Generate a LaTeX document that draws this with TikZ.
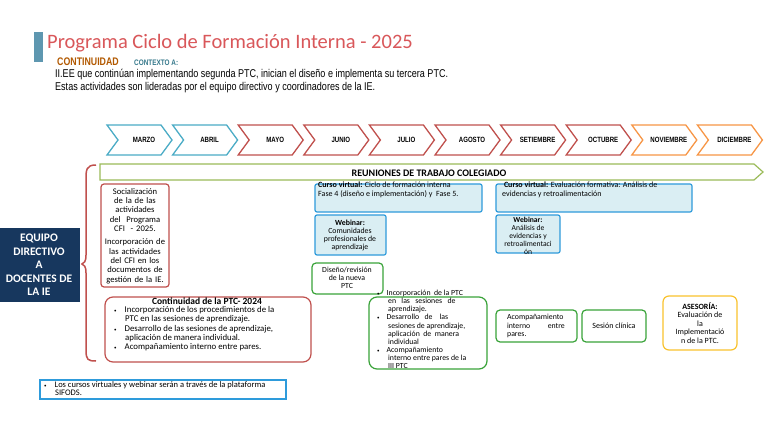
\documentclass[tikz,border=0pt]{standalone}
\usepackage{fontspec}
\setmainfont{Carlito}
\newfontfamily\narrowfont{Liberation Sans}[FakeStretch=0.8]
\usetikzlibrary{shapes.misc}
\definecolor{cblue}{HTML}{4BACC6}
\definecolor{cred}{HTML}{C0504D}
\definecolor{corange}{HTML}{F79646}
\definecolor{cgreen}{HTML}{9BBB59}
\definecolor{bgreen}{HTML}{3AA33A}
\definecolor{navy}{HTML}{17375E}
\definecolor{lblue}{HTML}{DAEEF3}
\definecolor{sblue}{HTML}{2E9BDB}
\definecolor{ttl}{HTML}{D9575A}
\definecolor{yel}{HTML}{F9C22E}
\newcommand{\bul}{{\tiny\textbullet}}
\tikzset{
 mon/.style={line width=1.3pt,fill=white,line join=miter},
 mlab/.style={font=\narrowfont\fontsize{7.6}{9}\selectfont\bfseries},
}
\begin{document}
\begin{tikzpicture}[x=1pt,y=-1pt]
\useasboundingbox (0,0) rectangle (768,433);
\fill[white] (0,0) rectangle (768,433);
% title
\fill[cblue!60!navy!80] (34,32) rectangle (43,62);
\node[anchor=west,text=ttl,font=\fontsize{20.5}{22}\selectfont,inner sep=0] (title) at (47,43) {Programa Ciclo de Formación Interna - 2025};
\node[anchor=west,text=orange!70!black,font=\narrowfont\fontsize{11}{12}\selectfont\bfseries,inner sep=0] (cont) at (57,62) {CONTINUIDAD};
\node[anchor=west,text=cblue!70!black,font=\narrowfont\fontsize{8}{9}\selectfont\bfseries,inner sep=0] (ctx) at (134,63) {CONTEXTO A:};
\node[anchor=west,font=\narrowfont\fontsize{11.3}{12}\selectfont,inner sep=0] (l1) at (55,75) {II.EE que continúan implementando segunda PTC, inician el diseño e implementa su tercera PTC.};
\node[anchor=west,font=\narrowfont\fontsize{11.3}{12}\selectfont,inner sep=0] (l2) at (55,88) {Estas actividades son lideradas por el equipo directivo y coordinadores de la IE.};
% months
\foreach \i/\m/\c in {0/MARZO/cblue,1/ABRIL/cblue,2/MAYO/cred,3/JUNIO/cred,4/JULIO/cred,5/AGOSTO/cred,6/SETIEMBRE/cred,7/OCTUBRE/cred,8/NOVIEMBRE/corange,9/DICIEMBRE/corange}{
 \pgfmathsetmacro\xa{107+65.6*\i}
 \draw[mon,draw=\c] (\xa,125) -- ++(54,0) -- ++(11,15) -- ++(-11,15) -- ++(-54,0) -- ++(11,-15) -- cycle;
 \node[mlab] (m\i) at (\xa+37,140) {\m};
}
% green arrow
\draw[cgreen,line width=1.2pt] (100,164) -- (754,164) -- (763,172) -- (754,180) -- (100,180) -- cycle;
\node[font=\fontsize{10}{11}\selectfont\bfseries] (reu) at (429,173) {REUNIONES DE TRABAJO COLEGIADO};
% brace
\draw[cred,line width=1.5pt] (96,165) .. controls (86,165) and (86,170) .. (86,180) -- (86,255) .. controls (86,262) and (84,263) .. (82,264) .. controls (84,265) and (86,266) .. (86,273) -- (86,350) .. controls (86,360) and (88,361) .. (96,361);
% left box
\fill[navy] (0,228) rectangle (80,302);
\node[text=white,align=center,font=\fontsize{11.5}{13.5}\selectfont\bfseries] (eq) at (39,265) {EQUIPO\\DIRECTIVO\\A\\DOCENTES DE\\LA IE};
% red tall box
\draw[cred,line width=1.2pt,rounded corners=3pt] (101,184) rectangle (169,287);
\node[align=center,font=\fontsize{8.6}{9.3}\selectfont,text width=62pt] (soc) at (135,236) {Socialización de la de las actividades del \ Programa CFI \ - 2025.\\[4pt]Incorporación de las actividades del CFI en los documentos de gestión de la IE.};
% continuidad box
\draw[cred,line width=1.2pt,rounded corners=8pt] (105,297) rectangle (311,362);
\node[font=\fontsize{9.5}{10}\selectfont\bfseries] (ct) at (207,301) {Continuidad de la PTC- 2024};
\node[anchor=north west,align=left,font=\fontsize{8.8}{9.4}\selectfont,inner sep=0] (ctl) at (114,306) {
\bul\hspace{8pt}Incorporación de los procedimientos de la\\
\hspace{11pt}PTC en las sesiones de aprendizaje.\\
\bul\hspace{8pt}Desarrollo de las sesiones de aprendizaje,\\
\hspace{11pt}aplicación de manera individual.\\
\bul\hspace{8pt}Acompañamiento interno entre pares.};
% blue boxes
\draw[sblue,fill=lblue,rounded corners=2pt,line width=1.2pt] (315,184) rectangle (482,212);
\node[anchor=north west,font=\fontsize{8}{8.5}\selectfont,inner sep=0,align=left] (cv1) at (318,182) {\textbf{Curso virtual:} Ciclo de formación interna\\Fase 4 (diseño e implementación) y \ Fase 5.};
\draw[sblue,fill=lblue,rounded corners=2pt,line width=1.2pt] (496,184) rectangle (692,212);
\node[anchor=north west,font=\fontsize{8}{8.5}\selectfont,inner sep=0,align=left] (cv2) at (502,182) {\ \textbf{Curso virtual:} Evaluación formativa: Análisis de\\evidencias y retroalimentación};
\draw[sblue,fill=lblue,rounded corners=2pt,line width=1.2pt] (315,215) rectangle (386,255);
\node[align=center,font=\fontsize{7.8}{8}\selectfont] (wb1) at (350,235) {\textbf{Webinar:}\\Comunidades\\profesionales de\\aprendizaje};
\draw[sblue,fill=lblue,rounded corners=2pt,line width=1.2pt] (496,215) rectangle (560,253);
\node[align=center,font=\fontsize{7.6}{7.9}\selectfont] (wb2) at (528,236) {\textbf{Webinar:}\\Análisis de\\evidencias y\\retroalimentaci\\ón};
% green boxes
\draw[bgreen,line width=1.2pt,rounded corners=4pt] (312,263) rectangle (383,294);
\node[align=center,font=\fontsize{7.8}{8}\selectfont] (dis) at (347,278) {Diseño/revisión\\de la nueva\\PTC};
\draw[bgreen,line width=1.2pt,rounded corners=8pt] (369,297) rectangle (487,369);
\node[anchor=north west,align=left,font=\fontsize{7.8}{8.1}\selectfont,inner sep=0] (inc) at (377,290) {
\bul\hspace{7pt}Incorporación\ \ de la PTC\\
\hspace{11pt}en \ \ las \ \ sesiones \ \ de\\
\hspace{11pt}aprendizaje.\\
\bul\hspace{7pt}Desarrollo \ \ de \ \ \ las\\
\hspace{11pt}sesiones de aprendizaje,\\
\hspace{11pt}aplicación \ de \ manera\\
\hspace{11pt}individual\\
\bul\hspace{7pt}Acompañamiento\\
\hspace{11pt}interno entre pares de la\\
\hspace{11pt}III PTC};
\draw[bgreen,line width=1.2pt,rounded corners=4pt] (496,310) rectangle (577,342);
\node[align=left,font=\fontsize{7.8}{8.4}\selectfont] (aco) at (536,326) {Acompañamiento\\interno \hspace{14pt} entre\\pares.};
\draw[bgreen,line width=1.2pt,rounded corners=4pt] (582,310) rectangle (646,342);
\node[font=\fontsize{8}{8.5}\selectfont] (ses) at (614,326) {Sesión clínica};
\draw[yel,line width=1.2pt,rounded corners=6pt] (663,296) rectangle (737,350);
\node[align=center,font=\fontsize{8}{8.4}\selectfont] (ase) at (700,323) {\textbf{ASESORÍA:}\\Evaluación de\\la\\Implementació\\n de la PTC.};
% bottom note
\draw[sblue,line width=1.2pt] (40,380) rectangle (286,399);
\node[anchor=north west,align=left,font=\fontsize{8.5}{8.8}\selectfont,inner sep=0] (nt) at (44,381) {\bul\hspace{8pt}Los cursos virtuales y webinar serán a través de la plataforma\\\hspace{11pt}SIFODS.};
\end{tikzpicture}
\end{document}
